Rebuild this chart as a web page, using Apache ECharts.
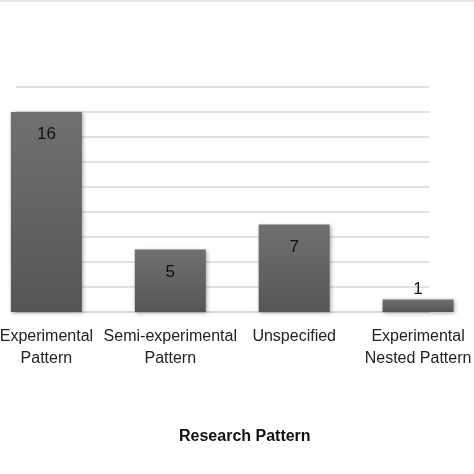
<!DOCTYPE html>
<html><head><meta charset="utf-8">
<script src="https://cdn.jsdelivr.net/npm/echarts@6/dist/echarts.min.js"></script>
<style>html,body{margin:0;padding:0;background:#fff}#c{width:474px;height:474px}</style>
</head><body><div id="c"></div>
<script>
const categories = ['Experimental\nPattern', 'Semi-experimental\nPattern', 'Unspecified', 'Experimental\nNested Pattern'];
const values = [16, 5, 7, 1];
const yTicks = {min: 0, max: 18, interval: 2};
const axisTitle = 'Research Pattern';

const chart = echarts.init(document.getElementById('c'));
chart.setOption({
  animation: false,
  grid: {left: 0, right: 0, top: 87, bottom: 162},
  xAxis: {
    type: 'value', min: -0.2465, max: 3.092,
    splitLine: {show: false},
    axisLine: {lineStyle: {color: '#d9d9d9', width: 2}},
    axisTick: {show: false},
    axisLabel: {customValues: [0, 1, 2, 3], formatter: v => categories[Math.round(v)] || '',
      color: '#222', fontFamily: 'Liberation Sans', fontSize: 16, lineHeight: 22, margin: 14}
  },
  yAxis: {
    type: 'value', min: yTicks.min, max: yTicks.max, interval: yTicks.interval,
    axisLabel: {show: false}, axisLine: {show: false}, axisTick: {show: false},
    splitLine: {lineStyle: {color: '#d9d9d9', width: 1.5}}
  },
  series: [{
    type: 'bar', data: values.map((v, i) => ({
      value: [i, v],
      label: v < 3 ? {position: 'top', distance: 2} : {position: 'insideTop', distance: 14}
    })),
    barWidth: 71,
    itemStyle: {
      color: new echarts.graphic.LinearGradient(0, 0, 0, 1, [{offset: 0, color: '#707070'}, {offset: 1, color: '#565656'}]),
      shadowColor: 'rgba(0,0,0,0.35)', shadowBlur: 4, shadowOffsetX: 1, shadowOffsetY: 1
    },
    label: {show: true, color: '#111', fontFamily: 'Liberation Sans', fontSize: 17, formatter: p => p.value[1]}
  }],
  graphic: [
    {type: 'line', shape: {x1: 0, y1: 1, x2: 474, y2: 1}, style: {stroke: '#e6e6e6', lineWidth: 2}},
    {type: 'text', left: 179, top: 429, style: {text: axisTitle, fontFamily: 'Liberation Sans', fontSize: 16, fontWeight: 'bold', fill: '#111'}}
  ]
});
</script></body></html>
